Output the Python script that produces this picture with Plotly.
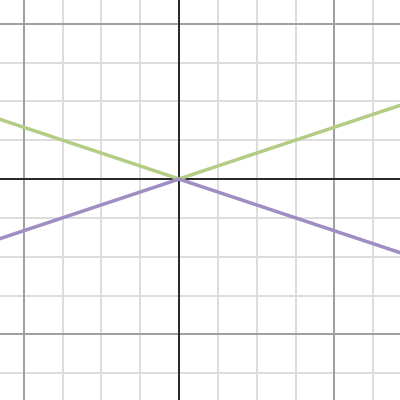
import plotly.graph_objects as go

# points of the two curves (y = |x|/3 and y = -|x|/3)
x_vals = [-5, 0, 6]
green_vals = [1.667, 0, 2.0]
purple_vals = [-1.667, 0, -2.0]

x_range = [-4.61, 5.69]
y_range = [-5.69, 4.61]

fig = go.Figure()

fig.add_trace(go.Scatter(
    x=x_vals, y=green_vals, mode='lines',
    line=dict(color='#b3cd86', width=3.5),
    showlegend=False
))
fig.add_trace(go.Scatter(
    x=x_vals, y=purple_vals, mode='lines',
    line=dict(color='#a08ec2', width=3.5),
    showlegend=False
))

axis_style = dict(
    tick0=0,
    dtick=4,
    showgrid=True,
    gridcolor='#a0a0a0',
    gridwidth=1.5,
    minor=dict(dtick=1, showgrid=True, gridcolor='#dddddd', gridwidth=1.5),
    zeroline=True,
    zerolinecolor='#2a2a2a',
    zerolinewidth=2,
    showticklabels=False,
    ticks='',
    showline=False,
    fixedrange=True,
)

fig.update_layout(
    width=400,
    height=400,
    margin=dict(l=0, r=0, t=0, b=0),
    plot_bgcolor='white',
    paper_bgcolor='white',
    xaxis=dict(range=x_range, **axis_style),
    yaxis=dict(range=y_range, **axis_style),
)

# drop the page's default body margin so the chart fills the window
fig.write_html("out.html", config={'displayModeBar': False},
               post_script="document.body.style.margin='0';document.body.style.overflow='hidden';")
